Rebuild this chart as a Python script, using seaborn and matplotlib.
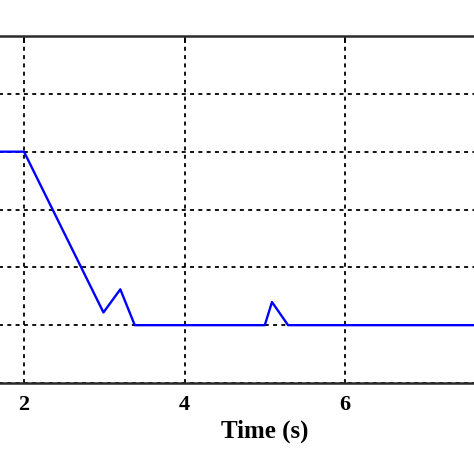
import numpy as np
import pandas as pd
import matplotlib
matplotlib.use("Agg")
import matplotlib.pyplot as plt
import seaborn as sns

# values
time_s = [0.0, 2.0, 2.99, 3.20, 3.38, 5.00, 5.09, 5.29, 10.0]
value = [4.0, 4.0, 1.22, 1.62, 1.0, 1.0, 1.40, 1.0, 1.0]
x_ticks = [0, 2, 4, 6, 8, 10]
x_labels = ["", "2", "4", "6", "", ""]   # only these fall inside the cropped view
y_ticks = [0, 1, 2, 3, 4, 5, 6]

sns.set_style("white")
plt.rcParams["font.family"] = ["Liberation Serif", "DejaVu Serif"]
plt.rcParams["font.weight"] = "bold"
plt.rcParams["text.color"] = "black"
plt.rcParams["axes.labelcolor"] = "black"

df = pd.DataFrame({"Time (s)": time_s, "value": value})

fig = plt.figure(figsize=(4.74, 4.74), dpi=100)
# the reference is a crop of a wider figure: the axes run past the left and right edges
ax = fig.add_axes([-0.288, 0.192, 1.6932, 0.732])

sns.lineplot(data=df, x="Time (s)", y="value", color=(0, 0, 1), linewidth=1.7,
             ax=ax, estimator=None, sort=False)

ax.set_xlim(0, 10)
ax.set_ylim(0, 6)
ax.set_xticks(x_ticks, x_labels)
ax.set_yticks(y_ticks, [""] * len(y_ticks))
ax.grid(True, color="black", linestyle=(0, (2.2, 2.4)), linewidth=1.3)
ax.tick_params(direction="in", length=5, width=1.3, top=True, right=True,
               labelsize=16, pad=9, colors="black")
for s in ax.spines.values():
    s.set_color("#2a2a2a")
    s.set_linewidth(1.8)
ax.set_xlabel("Time (s)", fontsize=18, fontweight="bold", labelpad=3, color="black")
ax.set_ylabel("")

fig.savefig("out.png", dpi=100)
